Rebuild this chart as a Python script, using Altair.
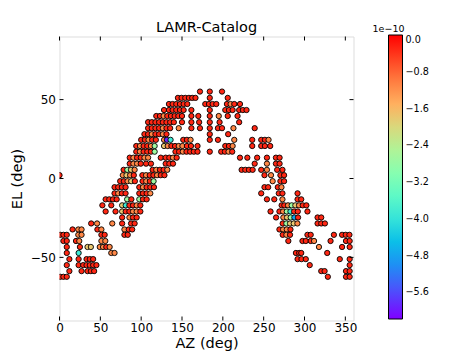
import math
import altair as alt
import pandas as pd

# ---- data (AZ in deg, EL in deg, value in units of 1e-10) ----
row_el = [55.1, 51.1, 47.2, 43.4, 39.6, 35.7, 31.9, 28.1, 24.5, 20.6, 17.0, 13.2,
          9.4, 5.5, 2.1, -1.7, -5.5, -9.4, -13.2, -17.0, -20.9, -24.7, -28.5,
          -32.3, -35.7, -39.6, -43.4, -47.2, -51.1, -54.9, -58.7, -62.3]

row_az = [
    [172, 184, 199],
    [145, 149.5, 154, 158.5, 162.5, 166.5, 184, 206],
    [134, 138.5, 143, 147.5, 152, 156.5, 178.5, 183, 187.5, 192, 205, 209.5, 214, 221],
    [128, 134, 138.5, 143, 147.5, 152, 161.5, 184, 203, 207.5, 212, 220, 224.5, 229],
    [118.5, 123, 127.5, 132, 136.5, 141, 145.5, 150, 161.5, 170, 184, 195, 206, 218],
    [108.5, 113, 117.5, 122, 126.5, 131, 135.5, 140, 150, 161.5, 171, 184, 196, 220],
    [108.5, 113, 117.5, 122, 126.5, 131, 135.5, 146, 161.5, 172, 184, 194, 199, 213, 239],
    [104, 108.5, 113, 117.5, 122, 126.5, 131, 184, 206.5],
    [100, 104.5, 109, 113.5, 118, 128, 131.5, 136, 151.5, 156, 160.5, 184, 194, 214, 236, 247, 251.5, 256],
    [94, 98.5, 103, 107.5, 112, 116.5, 128, 132.5, 137, 141.5, 146, 150.5, 156, 161, 169,
     203, 207.5, 212, 236, 247, 251.5, 258],
    [94, 98.5, 103, 107.5, 112, 116.5, 142, 146.5, 151, 155.5, 160, 164.5, 169, 184,
     198, 202.5, 207, 211.5],
    [86, 90.5, 95, 99.5, 104, 108.5, 124, 130, 134.5, 139, 143.5, 221, 230, 242, 254, 265, 269.5],
    [86, 90.5, 95, 99.5, 106, 112, 130, 134.5, 139, 239, 254, 265, 269.5],
    [78.5, 83, 87.5, 92, 114, 118.5, 123, 127.5, 132, 223, 227.5, 232, 236.5, 247, 254, 266.5, 273],
    [0, 77.5, 82, 86.5, 91, 101.5, 106, 110.5, 115, 119.5, 124, 128.5, 251, 259, 270.5, 275],
    [74.3, 78.8, 83.3, 87.8, 92.3, 101.7, 106.2, 110.7, 115.2, 261, 270.5, 275],
    [67.4, 71.9, 76.4, 80.9, 97.7, 102.2, 106.7, 111.2, 115.7, 251, 255.5, 267.3, 271.8],
    [67.4, 71.9, 76.4, 80.9, 97.7, 102.2, 106.7, 111.2, 247, 268.5, 273, 291.5],
    [56.5, 61, 65.5, 70, 82.8, 88, 97.7, 102.2, 106.7, 254, 263, 273, 291.5, 296],
    [52.5, 63.4, 76.7, 81.1, 85.6, 90, 94.5, 99, 272, 275.3, 279.8, 284.3, 288.8, 293.3, 297.8, 302.3],
    [56.5, 68.6, 76.7, 81.1, 85.6, 90, 94.5, 99, 258.4, 269.3, 273.8, 278.3, 282.8, 287.3, 291.8, 303.6],
    [76.7, 85.6, 90, 94.5, 265.2, 274.1, 278.6, 283.1, 287.6, 292.1, 316, 320.5],
    [38.8, 46, 64.6, 76.7, 87.6, 92, 273.3, 277.8, 282.3, 286.8, 291.3, 316, 320.5, 325],
    [16, 23, 27, 46.4, 51.3, 79.5, 84.8, 89, 269.3, 273.8, 278.3, 282.8],
    [0.8, 4.8, 8.9, 23, 27, 51.3, 55.3, 79.5, 83.6, 273.3, 277.8, 282.3, 303.6, 307.6, 336, 346, 350.5, 355],
    [4.8, 8.9, 20.2, 24.2, 51.3, 56.1, 280.2, 297.5, 301.6, 307.6, 311.7, 331.9, 350.8, 355.3],
    [8.9, 25, 34.3, 38.4, 49.3, 53.3, 57.3, 61.4, 317.7, 346, 355.3],
    [8.9, 23.4, 63.4, 67.4, 289.5, 293.5, 296, 327.8],
    [12.1, 23.4, 33.1, 37.1, 41.2, 291.5, 296.3, 301.6, 343.2, 355.3],
    [8.9, 23.4, 29, 33.1, 37.1, 41.2, 45.2, 306.4, 355.3],
    [12.1, 27, 34.3, 38.4, 42.4, 320.5, 324.6, 350.8, 355.3],
    [0.8, 4.8, 8.9, 328.6, 350.8, 355.3],
]

# colour class of each point, row by row (r: ~0, o: orange, y: yellow, g: green, c: cyan, b: blue, p: purple)
row_codes = [
    "rrr", "rrrrrrrr", "rrrrrrrrrrrorr", "rrrrrrrrrrrrrr", "rrorrrrrrrrorr",
    "rrrrrrrrrrrrrr", "rrrrorrorrrrror", "rrorrorrr", "rrorropcrrorrorrro",
    "rorrogyorroorrrrrorrrr", "rorrrgrrorrrrrrror", "rorroorrrorrrrrrr",
    "roorrrrrrrorr", "rgyororrorrrrrorr", "royorrorrorrrorr", "rroyrrorgorr",
    "rrrrrorrrrrro", "rorrrrrorrrr", "rrrrgrgrrrrorr", "rrycrrorrrogyorr",
    "rryrroorrrogcrrr", "rorrroygbrrr", "roorrrrgyyorrr", "rooroorrroor",
    "rrroorrrrrorrrrrrr", "rrrooorrrrorrr", "rryyooroorr", "rcoorrrr",
    "rrrrrrrrrr", "rrrrrrrrr", "rrrrrrrrr", "rrrrrr",
]
code_value = {"r": -0.3, "o": -1.1, "y": -1.8, "g": -2.7, "c": -3.9, "b": -4.8, "p": -5.9}

x_ticks = [0, 50, 100, 150, 200, 250, 300, 350]
y_ticks = [-50, 0, 50]
cbar_ticks = [0.0, -0.8, -1.6, -2.4, -3.2, -4.0, -4.8, -5.6]
c_min, c_max = -6.18, 0.0

az, el, val = [], [], []
for e, azs, codes in zip(row_el, row_az, row_codes):
    for i, a in enumerate(azs):
        az.append(a)
        el.append(e)
        val.append(code_value[codes[i] if i < len(codes) else "r"])
df = pd.DataFrame({"az": az, "el": el, "val": val})


def rainbow(x):
    r = min(1.0, abs(2 * x - 0.5))
    g = math.sin(math.pi * x)
    b = math.cos(math.pi * x / 2)
    return "#%02x%02x%02x" % tuple(round(max(0.0, min(1.0, c)) * 255) for c in (r, g, b))


cmap = [rainbow(i / 16) for i in range(17)]

W, H = 294, 284
FONT = "DejaVu Sans"

x_enc = alt.X("az:Q", scale=alt.Scale(domain=[0, 360], nice=False, zero=False),
              axis=alt.Axis(values=x_ticks, title="AZ (deg)", titleFontSize=14.5,
                            titleFontWeight="normal", labelFontSize=12, grid=False,
                            ticks=False, tickSize=0, domain=False, labelPadding=2,
                            titlePadding=3, labelFlush=False, labelOverlap=False,
                            labelColor="black", titleColor="black",
                            labelFont=FONT, titleFont=FONT))
y_enc = alt.Y("el:Q", scale=alt.Scale(domain=[-90, 90], nice=False, zero=False),
              axis=alt.Axis(values=y_ticks, title="EL (deg)", titleFontSize=14.5,
                            titleFontWeight="normal", labelFontSize=12, grid=False,
                            ticks=False, tickSize=0, domain=False, labelPadding=4,
                            titlePadding=6, labelFlush=False, labelOverlap=False,
                            labelColor="black", titleColor="black",
                            labelFont=FONT, titleFont=FONT))

points = alt.Chart(df).mark_circle(
    size=28, stroke="black", strokeWidth=0.9, opacity=1, clip=True
).encode(
    x=x_enc,
    y=y_enc,
    color=alt.Color(
        "val:Q",
        scale=alt.Scale(domain=[c_min, c_max], range=cmap, interpolate="rgb"),
        legend=alt.Legend(
            title="1e\u221210", orient="none", legendX=W + 19, legendY=-13,
            direction="vertical", gradientLength=H, gradientThickness=14,
            gradientStrokeColor="black", gradientStrokeWidth=1,
            values=cbar_ticks, format=".1f", labelFontSize=9.6, labelFont=FONT,
            labelColor="black", labelOffset=3, labelBaseline="middle",
            titleFontSize=9.5, titleFont=FONT, titleFontWeight="normal",
            titleColor="black", titleAnchor="start", titleAlign="center",
            titlePadding=2, padding=0,
        ),
    ),
)

xt = pd.DataFrame({"az": x_ticks})
yt = pd.DataFrame({"el": y_ticks})
tick_x_bottom = alt.Chart(xt).mark_rule(color="black", strokeWidth=1).encode(
    x=x_enc, y=alt.value(H), y2=alt.value(H - 4))
tick_x_top = alt.Chart(xt).mark_rule(color="black", strokeWidth=1).encode(
    x=x_enc, y=alt.value(0), y2=alt.value(4))
tick_y_left = alt.Chart(yt).mark_rule(color="black", strokeWidth=1).encode(
    y=y_enc, x=alt.value(0), x2=alt.value(4))
tick_y_right = alt.Chart(yt).mark_rule(color="black", strokeWidth=1).encode(
    y=y_enc, x=alt.value(W), x2=alt.value(W - 4))

chart = alt.layer(points, tick_x_bottom, tick_x_top, tick_y_left, tick_y_right).properties(
    width=W, height=H,
    title=alt.TitleParams("LAMR-Catalog", fontSize=14.5, font=FONT, fontWeight="normal",
                          anchor="middle", offset=-12, color="black"),
    padding={"left": 51.5, "top": 28.5, "right": 112, "bottom": 38},
    autosize=alt.AutoSizeParams(type="none"),
).configure_view(stroke="#000000", strokeWidth=1, strokeOpacity=1).configure(background="white")

chart.save("out.html", embed_options={"renderer": "svg", "actions": False})
